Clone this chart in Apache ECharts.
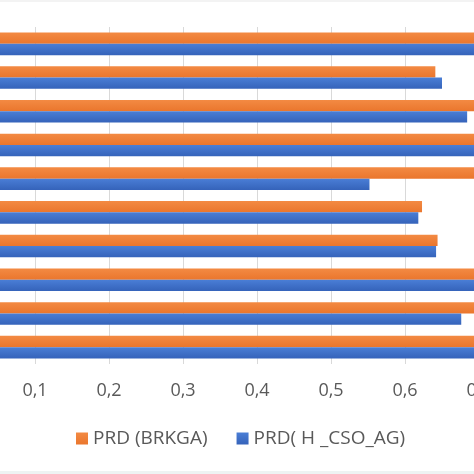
<!DOCTYPE html>
<html>
<head>
<meta charset="utf-8">
<script src="https://cdn.jsdelivr.net/npm/echarts@6/dist/echarts.min.js"></script>
<style>
html,body{margin:0;padding:0;background:#fff;}
#c{width:474px;height:474px;position:relative;}
#c:before{content:"";position:absolute;left:0;right:0;top:0;height:2px;background:#f3f3f3;z-index:5;}
#c:after{content:"";position:absolute;left:0;right:0;bottom:0;height:3px;background:#eef3f3;z-index:5;}
</style>
</head>
<body>
<div id="c"></div>
<script>
// categories listed top to bottom (original labels are cropped out of the image)
const categories = ['C1','C2','C3','C4','C5','C6','C7','C8','C9','C10'];
const seriesNames = ['PRD (BRKGA)', 'PRD( H _CSO_AG)'];
const brkga   = [0.76, 0.641, 0.700, 0.78, 0.74, 0.623, 0.644, 0.77, 0.72, 0.75];
const hcsoag  = [0.74, 0.650, 0.684, 0.76, 0.552, 0.618, 0.642, 0.75, 0.676, 0.73];
const xTicks = [0, 0.1, 0.2, 0.3, 0.4, 0.5, 0.6, 0.7, 0.8];

const chart = echarts.init(document.getElementById('c'), null, {renderer:'canvas'});
function grad(c1, c2){
  return new echarts.graphic.LinearGradient(0,0,0,1,[{offset:0,color:c1},{offset:1,color:c2}]);
}
chart.setOption({
  animation:false,
  backgroundColor:'#ffffff',
  grid:{left:-39, top:27, width:592, height:337, containLabel:false, outerBoundsMode:'none'},
  xAxis:{
    type:'value', min:xTicks[0], max:xTicks[xTicks.length-1], interval:0.1,
    axisLine:{show:false}, axisTick:{show:false},
    splitLine:{lineStyle:{color:'#d9d9d9', width:1}},
    axisLabel:{color:'#595959', fontSize:18, fontFamily:'Open Sans', margin:18,
      hideOverlap:false,
      formatter:v=>String(Math.round(v*10)/10).replace('.',',')}
  },
  yAxis:{
    type:'category', data:categories, inverse:true,
    axisLine:{show:false}, axisTick:{show:false}, axisLabel:{show:false}
  },
  legend:{
    bottom:26, left:76, padding:0, itemWidth:12, itemHeight:12, itemGap:29, icon:'rect',
    textStyle:{color:'#595959', fontSize:19, fontFamily:'Open Sans'},
    data:seriesNames
  },
  series:[
    {name:seriesNames[0], type:'bar', data:brkga, barGap:'0%', barCategoryGap:'33%',
     itemStyle:{color:grad('#F38A43','#EA762D')}},
    {name:seriesNames[1], type:'bar', data:hcsoag, barGap:'0%', barCategoryGap:'33%',
     itemStyle:{color:grad('#4A7ED6','#3563BA')}}
  ]
});
</script>
</body>
</html>
